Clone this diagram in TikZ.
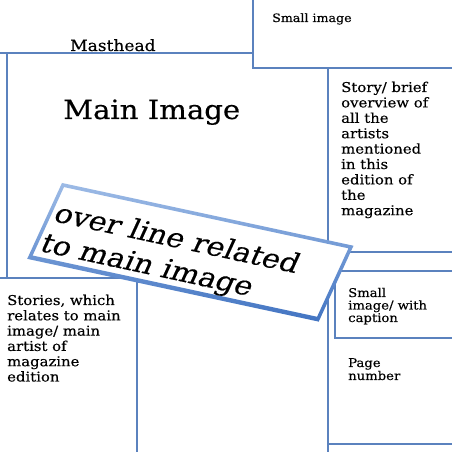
\documentclass[tikz,border=0pt]{standalone}
\usepackage{fontspec}
\setmainfont{DejaVu Serif}[FakeStretch=1.1, FakeBold=0.35]
\definecolor{frame}{HTML}{5B82BE}
\definecolor{boxlight}{HTML}{9DBBE6}
\definecolor{boxdark}{HTML}{4274C2}
\tikzset{
  rule/.style={draw=frame, line width=1.5pt},
  txt/.style={inner sep=0pt, anchor=base west, text=black},
}
\begin{document}
\begin{tikzpicture}[x=1pt,y=1pt]
\useasboundingbox[fill=white] (0,0) rectangle (452,452);
% layout rules
\draw[rule] (0,399) -- (253,399);
\draw[rule] (253,452) -- (253,384) -- (452,384);
\draw[rule] (7,399) -- (7,174);
\draw[rule] (0,174) -- (137,174) -- (137,0);
\draw[rule] (328,384) -- (328,0);
\draw[rule] (328,200) -- (452,200);
\draw[rule] (452,181) -- (335,181) -- (335,114) -- (452,114);
\draw[rule] (328,8) -- (452,8);
% texts
\node[txt, font=\fontsize{15.5}{18}\selectfont] (mast) at (70,401) {Masthead};
\node[txt, font=\fontsize{26.5}{30}\selectfont] (mainimg) at (63,333) {Main Image};
\node[txt, font=\fontsize{11.5}{13}\selectfont] (smallimg) at (272,430) {Small image};
\foreach \t [count=\i from 0] in {Story/ brief, overview of, all the, artists, mentioned, in this, edition of, the, magazine}
  \node[txt, font=\fontsize{13.5}{15}\selectfont] (story\i) at (341,360-15.4*\i) {\t};
\foreach \t [count=\i from 0] in {{Stories, which}, relates to main, image/ main, artist of, magazine, edition}
  \node[txt, font=\fontsize{13.5}{15}\selectfont] (stories\i) at (7,147-15.3*\i) {\t};
\foreach \t [count=\i from 0] in {Small, image/ with, caption}
  \node[txt, font=\fontsize{12}{13}\selectfont] (cap\i) at (348,155-12.5*\i) {\t};
\foreach \t [count=\i from 0] in {Page, number}
  \node[txt, font=\fontsize{12}{13}\selectfont] (page\i) at (348,85-13*\i) {\t};
% tilted overline box
\begin{scope}[shift={(30,195)}, rotate=-12.15, xslant=0.221]
  \fill[white] (0,0) rectangle (294.6,77.3);
  \shade[top color=boxlight, bottom color=boxdark, even odd rule]
    (-1.8,-2.4) rectangle (296.4,79.1) (1.8,2.0) rectangle (292.8,75.5);
  \node[txt, transform shape, font=\fontsize{27}{30}\selectfont] (ol1) at (5,40) {over line related};
  \node[txt, transform shape, font=\fontsize{27}{30}\selectfont] (ol2) at (5,8) {to main image};
\end{scope}
\end{tikzpicture}
\end{document}
